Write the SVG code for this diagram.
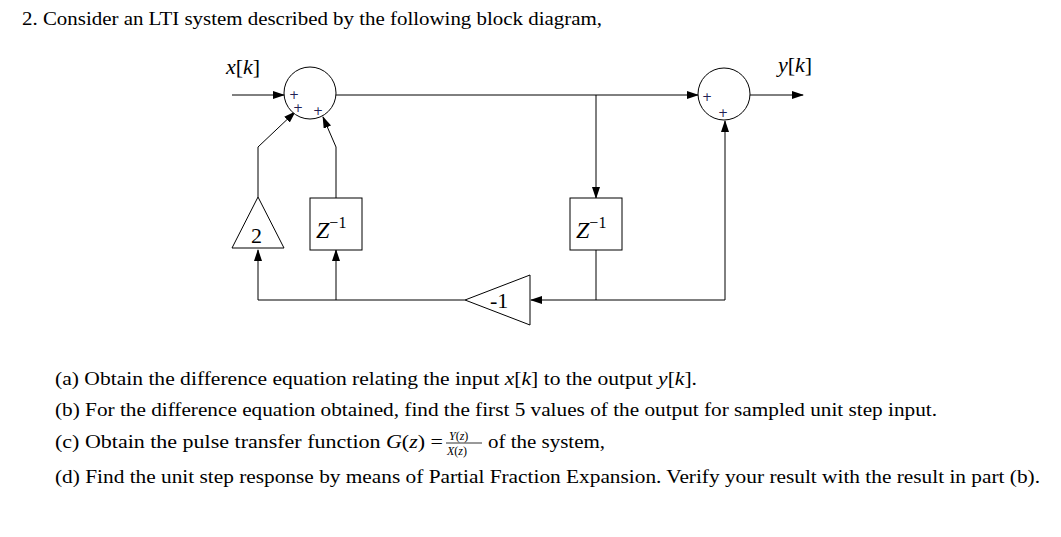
<svg xmlns="http://www.w3.org/2000/svg" width="1061" height="537" viewBox="0 0 1061 537">
<style>
.t{font-family:"Liberation Serif",serif;font-size:18px;fill:#000}
.m{font-family:"Liberation Serif",serif;font-style:italic;font-size:24px}
.s{fill:none;stroke:#000;stroke-width:1}
.w{fill:#fff;stroke:#000;stroke-width:1}
.p{font-family:"DejaVu Sans",sans-serif;font-size:12px;fill:#225}
</style>
<defs><marker id="a" markerWidth="12" markerHeight="8" refX="11" refY="4" orient="auto" markerUnits="userSpaceOnUse"><path d="M0,0L12,4L0,8z" fill="#000"/></marker></defs>
<rect width="1061" height="537" fill="#fff"/>
<text class="t" x="22" y="25" textLength="580" lengthAdjust="spacingAndGlyphs">2. Consider an LTI system described by the following block diagram,</text>
<g id="connectors" class="s">
<path d="M232,95H284" marker-end="url(#a)"/>
<path d="M336,95H698" marker-end="url(#a)"/>
<path d="M750,95H803" marker-end="url(#a)"/>
<path d="M596,95V198" marker-end="url(#a)"/>
<path d="M596,250V300H725V121" marker-end="url(#a)"/>
<path d="M596,300H531" marker-end="url(#a)"/>
<path d="M465,300H258V250" marker-end="url(#a)"/>
<path d="M336,300V250" marker-end="url(#a)"/>
<path d="M258,197V147L295,112" marker-end="url(#a)"/>
<path d="M336,198V147L323,117" marker-end="url(#a)"/>
</g>
<g id="sum1"><circle class="w" cx="310" cy="93" r="26"/><text class="p" x="289" y="99">+</text><text class="p" x="293" y="112">+</text><text class="p" x="313" y="115">+</text></g>
<g id="sum2"><circle class="w" cx="724" cy="94" r="26"/><text class="p" x="702" y="101">+</text><text class="p" x="718" y="117">+</text></g>
<g id="gain2"><path class="w" d="M258,197L284,248H232Z"/><text class="t" x="251" y="243" style="font-size:22px">2</text></g>
<g id="z1"><rect class="w" x="310" y="198" width="52" height="52"/><text class="m" x="316" y="238">Z<tspan font-style="normal" font-size="16" dy="-10">−1</tspan></text></g>
<g id="z2"><rect class="w" x="570" y="198" width="52" height="52"/><text class="m" x="576" y="238">Z<tspan font-style="normal" font-size="16" dy="-10">−1</tspan></text></g>
<g id="gainm1"><path class="w" d="M465,300L530,275V325Z"/><text class="t" x="490" y="308" style="font-size:22px">-1</text></g>
<text class="m" x="226" y="74" style="font-size:22px">x<tspan font-style="normal">[</tspan>k<tspan font-style="normal">]</tspan></text>
<text class="m" x="778" y="72" style="font-size:22px">y<tspan font-style="normal">[</tspan>k<tspan font-style="normal">]</tspan></text>
<text class="t" x="55" y="385" textLength="642" lengthAdjust="spacingAndGlyphs">(a) Obtain the difference equation relating the input <tspan font-style="italic">x</tspan>[<tspan font-style="italic">k</tspan>] to the output <tspan font-style="italic">y</tspan>[<tspan font-style="italic">k</tspan>].</text>
<text class="t" x="55" y="416" textLength="882" lengthAdjust="spacingAndGlyphs">(b) For the difference equation obtained, find the first 5 values of the output for sampled unit step input.</text>
<text class="t" x="55" y="448" textLength="388" lengthAdjust="spacingAndGlyphs">(c) Obtain the pulse transfer function <tspan font-style="italic">G</tspan>(<tspan font-style="italic">z</tspan>) =</text>
<text class="t" x="449" y="440" style="font-size:12px"><tspan font-style="italic">Y</tspan>(<tspan font-style="italic">z</tspan>)</text>
<path d="M446,443H482" stroke="#000" stroke-width="0.8"/>
<text class="t" x="447" y="455" style="font-size:12px"><tspan font-style="italic">X</tspan>(<tspan font-style="italic">z</tspan>)</text>
<text class="t" x="488" y="448" textLength="117" lengthAdjust="spacingAndGlyphs">of the system,</text>
<text class="t" x="55" y="483" textLength="985" lengthAdjust="spacingAndGlyphs">(d) Find the unit step response by means of Partial Fraction Expansion. Verify your result with the result in part (b).</text>
</svg>
